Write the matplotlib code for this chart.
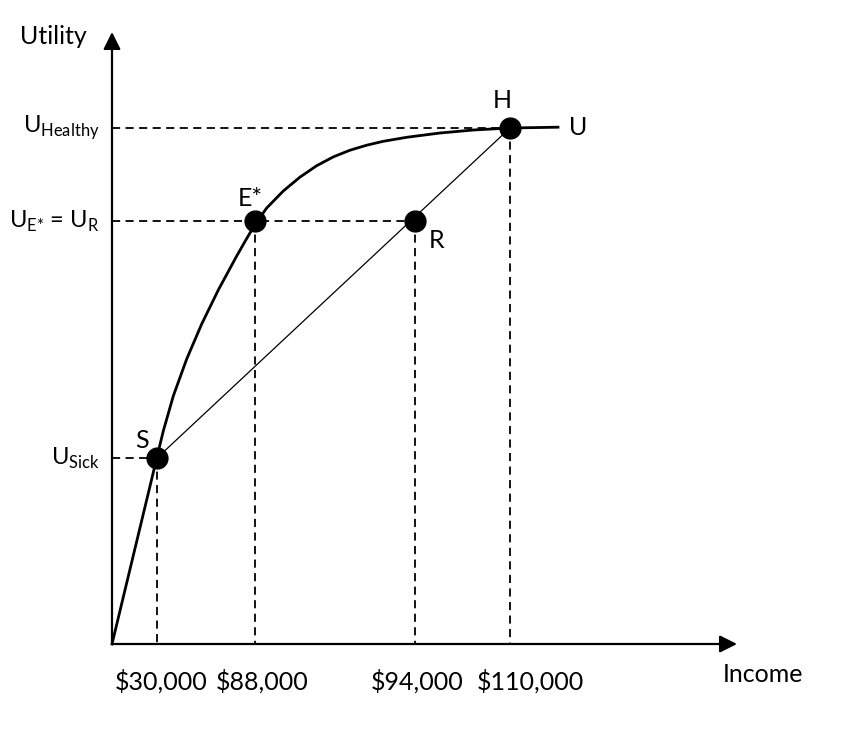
import matplotlib
matplotlib.use('Agg')
import matplotlib.pyplot as plt

# ── data (schematic units: income position along axis, utility height) ───────
curve_x = [0, 44.7, 51.3, 61.3, 74.7, 89.7, 106.3, 124.7, 134.7, 143, 154.7,
           171.3, 188, 204.7, 221.3, 238, 254.7, 271.3, 294.7, 328, 361.3,
           398, 446]
curve_u = [0, 185.7, 213, 248, 285, 320, 354, 388, 405.5, 419.5, 436,
           453, 466.9, 478.3, 487.1, 493.8, 498.8, 502.7, 506.7, 511.0, 514.0,
           516.0, 516.8]

point_names = ['S', 'E*', 'R', 'H']
point_x     = [44.7, 143, 303, 398]
point_u     = [185.7, 423, 423, 516.0]

income_labels = ['$30,000', '$88,000', '$94,000', '$110,000']
util_labels   = [r'U$_{\mathregular{Sick}}$',
                 r'U$_{\mathregular{E{*}}}$ = U$_{\mathregular{R}}$',
                 r'U$_{\mathregular{Healthy}}$']
util_levels   = [185.7, 423, 516.0]

# ── style ─────────────────────────────────────────────────────────────────────
plt.rcParams['font.family'] = ['Lato', 'DejaVu Sans']
plt.rcParams['mathtext.fontset'] = 'custom'
plt.rcParams['mathtext.rm'] = 'Lato'
FS = 18
DASH = (0, (4.5, 3))

fig = plt.figure(figsize=(8.54, 7.30), dpi=100)
ax = fig.add_axes([0, 0, 1, 1])
ax.set_xlim(-112, 742)
ax.set_ylim(-86, 644)
ax.axis('off')

# axes with arrows
arrow = dict(arrowstyle='-|>', lw=1.6, color='k', mutation_scale=26,
             shrinkA=0, shrinkB=0)
ax.annotate('', xy=(0, 612), xytext=(0, 0), arrowprops=arrow)
ax.annotate('', xy=(625, 0), xytext=(0, 0), arrowprops=arrow)

# dashed guides
S, E, R, H = [(x, u) for x, u in zip(point_x, point_u)]
for (x, u) in (S, E, R, H):
    ax.plot([x, x], [u, 0], ls=DASH, color='k', lw=1.3, zorder=1)
ax.plot([0, S[0]], [S[1], S[1]], ls=DASH, color='k', lw=1.3, zorder=1)
ax.plot([0, R[0]], [E[1], E[1]], ls=DASH, color='k', lw=1.3, zorder=1)
ax.plot([0, H[0]], [H[1], H[1]], ls=DASH, color='k', lw=1.3, zorder=1)

# utility curve and chord
ax.plot(curve_x, curve_u, color='k', lw=2.0, solid_joinstyle='round', zorder=2)
ax.plot([S[0], H[0]], [S[1], H[1]], color='k', lw=0.9, zorder=2)
ax.plot(point_x, point_u, 'o', color='k', ms=15, zorder=3)

# point labels
offsets = {'S': (-15, 18), 'E*': (-5, 23), 'R': (22, -20), 'H': (-8, 27)}
for name, x, u in zip(point_names, point_x, point_u):
    dx, dy = offsets[name]
    ax.text(x + dx, u + dy, name, fontsize=FS, ha='center', va='center')
ax.text(curve_x[-1] + 20, curve_u[-1], 'U', fontsize=FS, ha='center', va='center')

# axis titles
ax.text(-92, 607, 'Utility', fontsize=FS, ha='left', va='center')
ax.text(651, -31, 'Income', fontsize=FS, ha='center', va='center')

# income labels under the axis
label_shift = [4, 7, 2, 20]
for lab, x, sh in zip(income_labels, point_x, label_shift):
    ax.text(x + sh, -37, lab, fontsize=FS, ha='center', va='center')

# utility labels left of the axis
for lab, u in zip(util_labels, util_levels):
    ax.text(-12, u, lab, fontsize=FS - 1, ha='right', va='center')

fig.savefig('out.png', dpi=100)
